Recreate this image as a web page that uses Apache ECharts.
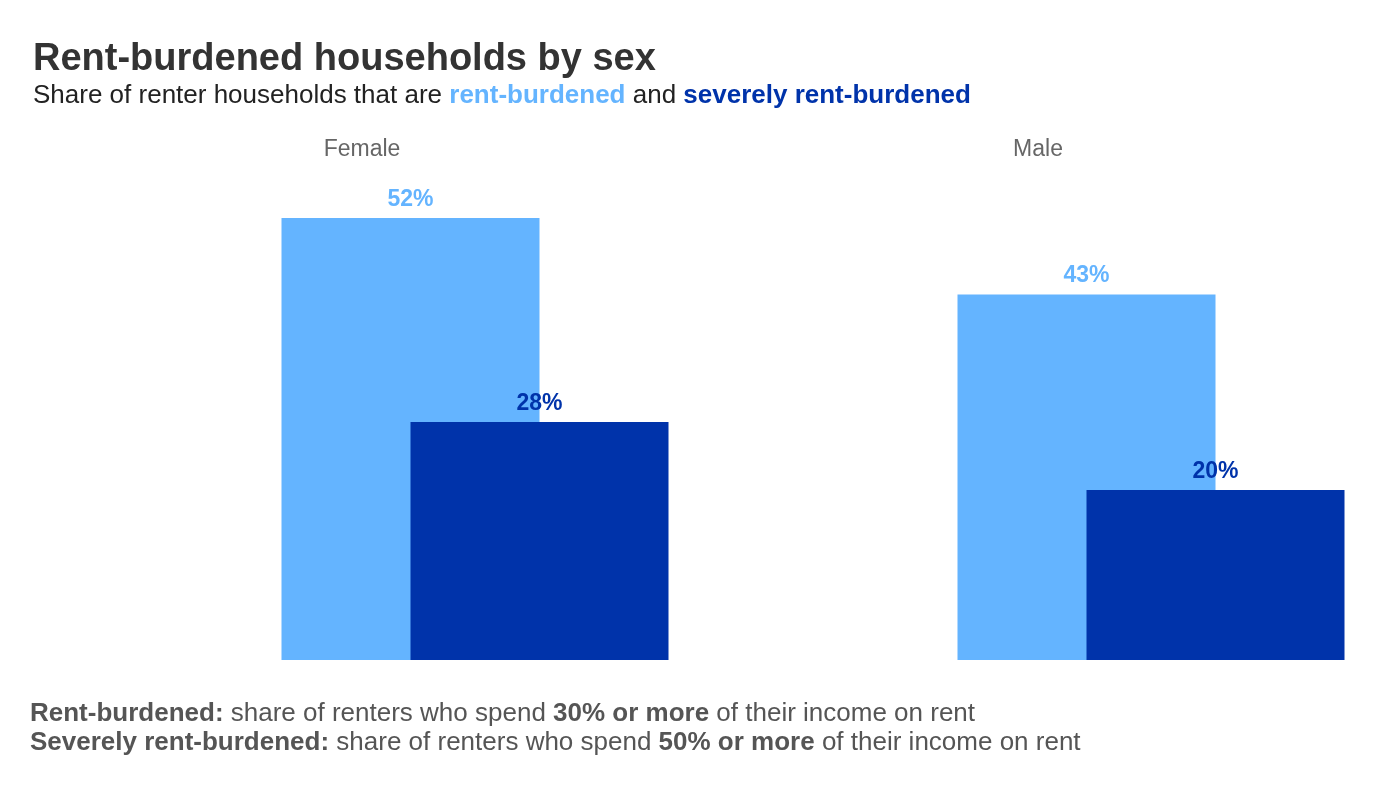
<!DOCTYPE html>
<html>
<head>
<meta charset="utf-8">
<script src="https://cdn.jsdelivr.net/npm/echarts@6/dist/echarts.min.js"></script>
<style>
  html, body { margin: 0; padding: 0; background: #fff; }
  #chart { width: 1400px; height: 800px; }
</style>
</head>
<body>
<div id="chart"></div>
<script>
var categories = ["Female", "Male"];
var rentBurdened = [52, 43];
var severelyBurdened = [28, 20];

var lightBlue = "#64b4ff";
var darkBlue = "#0033aa";
var font = "Liberation Sans, Arial, sans-serif";

var chart = echarts.init(document.getElementById("chart"));

var option = {
  backgroundColor: "#fff",
  textStyle: { fontFamily: font },
  title: [{
    text: "Rent-burdened households by sex",
    left: 28,
    top: 36,
    textStyle: { fontSize: 38, fontWeight: "bold", color: "#333", fontFamily: font },
    subtext: "Share of renter households that are {l|rent-burdened} and {d|severely rent-burdened}",
    subtextStyle: {
      fontSize: 26, color: "#222", fontFamily: font,
      rich: {
        l: { fontSize: 26, fontWeight: "bold", color: lightBlue, fontFamily: font },
        d: { fontSize: 26, fontWeight: "bold", color: darkBlue, fontFamily: font }
      }
    },
    itemGap: 4
  }, {
    text: "{b|Rent-burdened:} share of renters who spend {b|30% or more} of their income on rent\n{b|Severely rent-burdened:} share of renters who spend {b|50% or more} of their income on rent",
    left: 25,
    top: 694,
    textStyle: {
      fontSize: 26, fontWeight: "normal", color: "#555", fontFamily: font, lineHeight: 29,
      rich: {
        b: { fontSize: 26, fontWeight: "bold", color: "#555", fontFamily: font, lineHeight: 29 }
      }
    }
  }],
  grid: { left: 137, width: 1352, top: 150, bottom: 140, outerBoundsMode: "none", containLabel: false },
  xAxis: {
    type: "category",
    data: categories,
    position: "top",
    axisLine: { show: false },
    axisTick: { show: false },
    axisLabel: {
      fontSize: 23, color: "#666", fontFamily: font,
      margin: 0, verticalAlign: "middle",
      padding: [0, 226, 0, 0]
    }
  },
  yAxis: {
    type: "value",
    min: 0,
    max: 60,
    show: false,
    splitLine: { show: false }
  },
  series: [{
    name: "Rent-burdened",
    type: "bar",
    data: rentBurdened,
    barWidth: 258,
    barGap: "-50%",
    itemStyle: { color: lightBlue },
    label: {
      show: true, position: "top", distance: 7,
      formatter: "{c}%", fontSize: 23, fontWeight: "bold", color: lightBlue, fontFamily: font
    }
  }, {
    name: "Severely rent-burdened",
    type: "bar",
    data: severelyBurdened,
    barWidth: 258,
    itemStyle: { color: darkBlue },
    label: {
      show: true, position: "top", distance: 7,
      formatter: "{c}%", fontSize: 23, fontWeight: "bold", color: darkBlue, fontFamily: font
    }
  }]
};

chart.setOption(option);
</script>
</body>
</html>
